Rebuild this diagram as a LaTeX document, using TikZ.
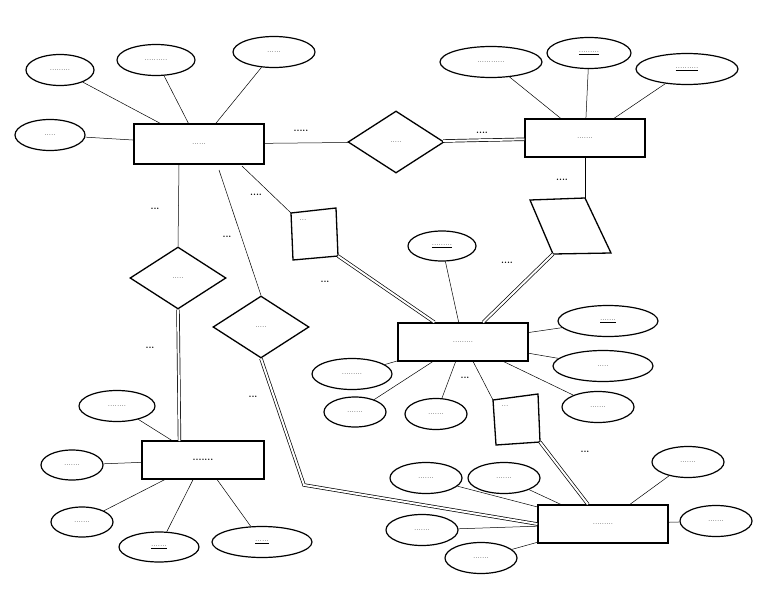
\documentclass[tikz,border=0pt]{standalone}
\usetikzlibrary{shapes.geometric}
\tikzset{
	entity/.style={draw,line width=1.3pt,minimum width=#1,minimum height=40pt,inner sep=0pt,font=\scriptsize},
	attr/.style={draw,ellipse,line width=1.2pt,minimum width=#1,minimum height=31pt,inner sep=0pt,font=\scriptsize},
	rel/.style={draw,diamond,line width=1.3pt,minimum width=96pt,minimum height=62pt,inner sep=0pt,font=\scriptsize},
	link/.style={line width=0.5pt},
	total/.style={double,double distance=2pt,line width=0.7pt},
	card/.style={font=\small\bfseries}
}
\begin{document}
\begin{tikzpicture}[x=1pt,y=-1pt]
	\useasboundingbox (0,0) rectangle (768,594);

	% entities
	\node[entity=130pt] (ea) at (199,144) {......};
	\node[entity=120pt,minimum height=38pt] (eb) at (585,138) {.......};
	\node[entity=130pt,minimum height=38pt] (ec) at (463,342) {.........};
	\node[entity=122pt,minimum height=38pt] (ed) at (203,460) {\small\bfseries.......};
	\node[entity=130pt,minimum height=38pt] (ee) at (603,524) {.........};

	% relationships
	\node[rel] (ra) at (396,142) {.....};
	\node[rel] (rb) at (178,278) {.....};
	\node[rel] (rc) at (261,327) {.....};

	% skewed boxes
	\coordinate (pa1) at (291,213); \coordinate (pa2) at (336,208);
	\coordinate (pa3) at (338,256); \coordinate (pa4) at (293,260);
	\coordinate (pb1) at (530,200); \coordinate (pb2) at (585,198);
	\coordinate (pb3) at (611,253); \coordinate (pb4) at (553,254);
	\coordinate (pc1) at (493,400); \coordinate (pc2) at (538,394);
	\coordinate (pc3) at (540,442); \coordinate (pc4) at (496,445);
	\coordinate (edtop) at (179.5,441);
	\draw[line width=1.3pt] (pa1) -- (pa2) -- (pa3) -- (pa4) -- cycle;
	\draw[line width=1.3pt] (pb1) -- (pb2) -- (pb3) -- (pb4) -- cycle;
	\draw[line width=1.3pt] (pc1) -- (pc2) -- (pc3) -- (pc4) -- cycle;
	\node[font=\scriptsize] (pa) at (303,220) {...};
	\node[font=\scriptsize] (pc) at (505,406) {...};

	% attributes
	\node[attr=68pt] (a1) at (60,70) {.........};
	\node[attr=78pt] (a2) at (156,60) {..........};
	\node[attr=82pt] (a3) at (274,52) {......};
	\node[attr=70pt] (a4) at (50,135) {.....};
	\node[attr=102pt] (b1) at (491,62) {............};
	\node[attr=84pt] (b2) at (589,53) {\underline{.........}};
	\node[attr=102pt] (b3) at (687,69) {\underline{..........}};
	\node[attr=68pt,minimum height=30pt] (c1) at (442,246) {\underline{.........}};
	\node[attr=100pt] (c2) at (608,321) {\underline{.......}};
	\node[attr=100pt] (c3) at (603,366) {.....};
	\node[attr=72pt] (c4) at (598,407) {.......};
	\node[attr=80pt] (c5) at (352,374) {.........};
	\node[attr=62pt,minimum height=30pt] (c6) at (355,412) {.......};
	\node[attr=62pt] (c7) at (436,414) {.......};
	\node[attr=76pt] (d1) at (117,406) {........};
	\node[attr=62pt,minimum height=30pt] (d2) at (72,465) {.......};
	\node[attr=62pt,minimum height=30pt] (d3) at (82,522) {.......};
	\node[attr=80pt,minimum height=30pt] (d4) at (159,547) {\underline{.......}};
	\node[attr=100pt] (d5) at (262,542) {\underline{......}};
	\node[attr=72pt] (f1) at (426,478) {.......};
	\node[attr=72pt] (f2) at (504,478) {.......};
	\node[attr=72pt] (f3) at (688,462) {.......};
	\node[attr=72pt] (f4) at (716,521) {.......};
	\node[attr=72pt] (f5) at (422,530) {.......};
	\node[attr=72pt] (f6) at (481,558) {.......};

	% attribute links
	\foreach \a in {a1,a2,a3,a4} \draw[link] (\a) -- (ea);
	\foreach \a in {b1,b2,b3} \draw[link] (\a) -- (eb);
	\foreach \a in {c1,c2,c3,c4,c5,c6,c7} \draw[link] (\a) -- (ec);
	\foreach \a in {d1,d2,d3,d4,d5} \draw[link] (\a) -- (ed);
	\foreach \a in {f1,f2,f3,f4,f5,f6} \draw[link] (\a) -- (ee);

	% relationship links
	\draw[link] (ea) -- (ra);
	\draw[total] (ra) -- (eb);
	\draw[link] (179,165) -- (rb.north);
	\draw[total] (rb.south) -- (edtop);
	\draw[link] (219,170) -- (rc.north);
	\draw[total] (rc.south) -- (304,485) -- (ee.west);
	\draw[link] (242,166) -- (pa1);
	\draw[total] (pa3) -- (ec);
	\draw[link] (pb2) -- (eb);
	\draw[total] (pb4) -- (ec);
	\draw[link] (pc1) -- (ec);
	\draw[total] (pc3) -- (ee);

	% cardinalities
	\node[card] at (301,131) {.....};
	\node[card] at (482,133) {....};
	\node[card] at (155,209) {...};
	\node[card] at (256,195) {....};
	\node[card] at (227,237) {...};
	\node[card] at (562,180) {....};
	\node[card] at (507,263) {....};
	\node[card] at (325,282) {...};
	\node[card] at (150,348) {...};
	\node[card] at (253,397) {...};
	\node[card] at (465,378) {...};
	\node[card] at (585,452) {...};
\end{tikzpicture}
\end{document}
